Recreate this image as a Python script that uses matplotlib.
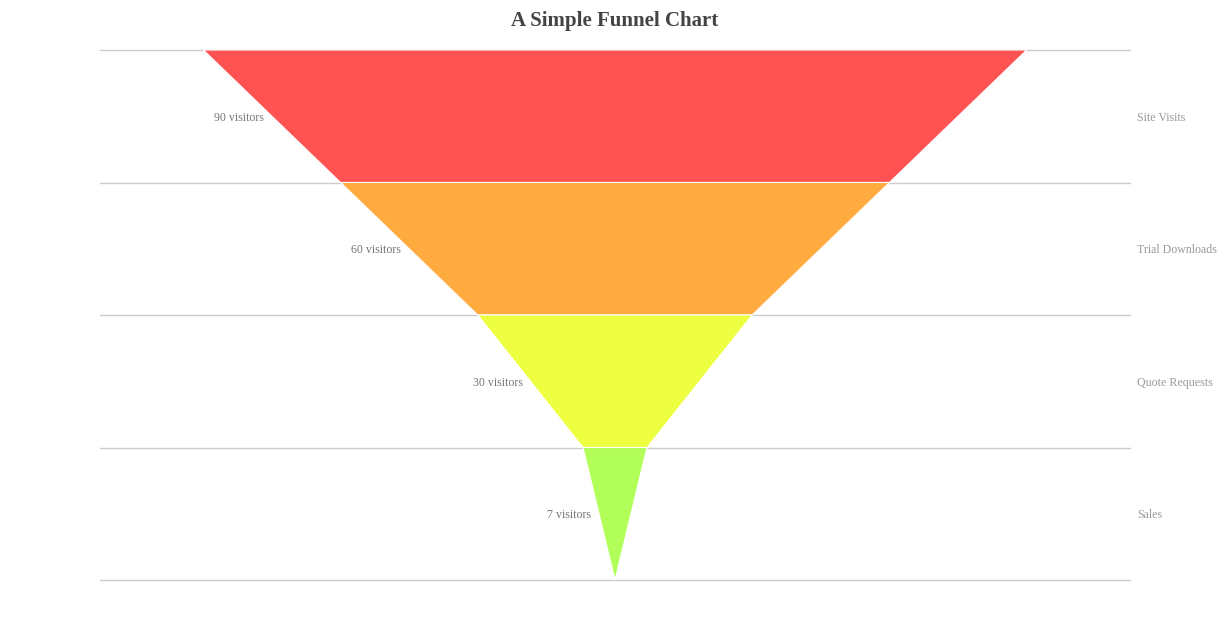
import matplotlib.pyplot as plt
from matplotlib.patches import Polygon

stages = ['Site Visits', 'Trial Downloads', 'Quote Requests', 'Sales']
visitors = [90, 60, 30, 7]
colors = ['#FF5252', '#FFAB40', '#EEFF41', '#B2FF59']


def main():
    plt.rcParams['font.family'] = ['Liberation Serif', 'DejaVu Serif']
    fig = plt.figure(figsize=(12.3, 6.3), dpi=100)
    ax = fig.add_axes([100 / 1230, 50 / 630, 1030 / 1230, 530 / 630])

    n = len(visitors)
    widths = visitors + [0]
    for i in range(n):
        top, bot = widths[i] / 2, widths[i + 1] / 2
        poly = Polygon([(-top, i), (top, i), (bot, i + 1), (-bot, i + 1)],
                       closed=True, facecolor=colors[i], edgecolor='white',
                       linewidth=0.8, zorder=2)
        ax.add_patch(poly)
        # label sits left of the slanted edge at mid height
        x_mid = -(top + bot) / 2
        ax.annotate(f'{visitors[i]} visitors', (x_mid, i + 0.5),
                    xytext=(-8, 0), textcoords='offset pixels',
                    ha='right', va='center_baseline', fontsize=8.6,
                    color='#777777')
        ax.annotate(stages[i], (1, i + 0.5), xycoords=('axes fraction', 'data'),
                    xytext=(7, 0), textcoords='offset pixels',
                    ha='left', va='center_baseline', fontsize=8.6,
                    color='#999999')

    for y in range(n + 1):
        ax.axhline(y, color='#cccccc', linewidth=1, zorder=1, clip_on=False)

    ax.set_xlim(-56.3, 56.3)
    ax.set_ylim(n, 0)
    ax.axis('off')

    fig.suptitle('A Simple Funnel Chart', y=1 - 21 / 630, va='center',
                 fontsize=15, fontweight='bold', color='#444444')
    fig.savefig('out.png', dpi=100)


if __name__ == '__main__':
    main()
